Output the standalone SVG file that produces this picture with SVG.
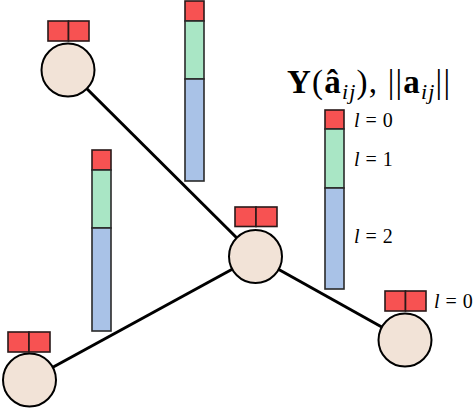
<svg xmlns="http://www.w3.org/2000/svg" width="474" height="409" viewBox="0 0 474 409">
<style>
.edge{stroke:#000;stroke-width:3;fill:none}
.node{fill:#f2e3d7;stroke:#000;stroke-width:2}
.r{fill:#f75252;stroke:#2a1a1a;stroke-width:1.6}
.g{fill:#a9e6c5;stroke:#2a2a2a;stroke-width:1.6}
.b{fill:#a9c2e7;stroke:#2a2a2a;stroke-width:1.6}
.lab{font-family:"Liberation Serif","DejaVu Serif",serif;font-size:20px;fill:#000}
.it{font-style:italic}
.title{font-family:"Liberation Serif","DejaVu Serif",serif;font-size:33px;fill:#000;letter-spacing:1.2px}
</style>
<rect width="474" height="409" fill="#fff"/>
<g id="connectors">
<line class="edge" x1="68" y1="70" x2="255.5" y2="256.5"/>
<line class="edge" x1="255.5" y1="256.5" x2="405" y2="340"/>
<line class="edge" x1="29.5" y1="380" x2="255.5" y2="256.5"/>
</g>
<g id="bar-top">
<rect class="r" x="185" y="1" width="19" height="20"/>
<rect class="g" x="185" y="21" width="19" height="58"/>
<rect class="b" x="185" y="79" width="19" height="102"/>
</g>
<g id="bar-mid">
<rect class="r" x="92" y="150" width="19" height="20"/>
<rect class="g" x="92" y="170" width="19" height="58"/>
<rect class="b" x="92" y="228" width="19" height="103"/>
</g>
<g id="bar-right">
<rect class="r" x="325" y="110" width="19" height="19"/>
<rect class="g" x="325" y="129" width="19" height="59"/>
<rect class="b" x="325" y="188" width="19" height="101"/>
<text class="lab" x="354" y="127"><tspan class="it">l</tspan><tspan dx="6">=</tspan><tspan dx="6">0</tspan></text>
<text class="lab" x="354" y="166"><tspan class="it">l</tspan><tspan dx="6">=</tspan><tspan dx="6">1</tspan></text>
<text class="lab" x="354" y="243"><tspan class="it">l</tspan><tspan dx="6">=</tspan><tspan dx="6">2</tspan></text>
</g>
<g id="node-1">
<circle class="node" cx="68" cy="70" r="26.5"/>
<rect class="r" x="48" y="21" width="20.5" height="20"/>
<rect class="r" x="68.5" y="21" width="20.5" height="20"/>
</g>
<g id="node-center">
<circle class="node" cx="255.5" cy="256.5" r="26.5"/>
<rect class="r" x="235" y="207" width="21" height="19.5"/>
<rect class="r" x="256" y="207" width="21" height="19.5"/>
</g>
<g id="node-bl">
<circle class="node" cx="29.5" cy="380" r="26.5"/>
<rect class="r" x="8" y="332" width="21" height="20"/>
<rect class="r" x="29" y="332" width="21" height="20"/>
</g>
<g id="node-br">
<circle class="node" cx="405" cy="340" r="26.5"/>
<rect class="r" x="385" y="291" width="20.5" height="20"/>
<rect class="r" x="405.5" y="291" width="20.5" height="20"/>
<text class="lab" x="434" y="308"><tspan class="it">l</tspan><tspan dx="6">=</tspan><tspan dx="6">0</tspan></text>
</g>
<g id="title">
<text class="title" x="287" y="93"><tspan font-weight="bold">Y</tspan>(<tspan font-weight="bold">â</tspan><tspan class="it" font-size="22" dy="6">ij</tspan><tspan dy="-6">), ||</tspan><tspan font-weight="bold">a</tspan><tspan class="it" font-size="22" dy="6">ij</tspan><tspan dy="-6">||</tspan></text>
</g>
</svg>
